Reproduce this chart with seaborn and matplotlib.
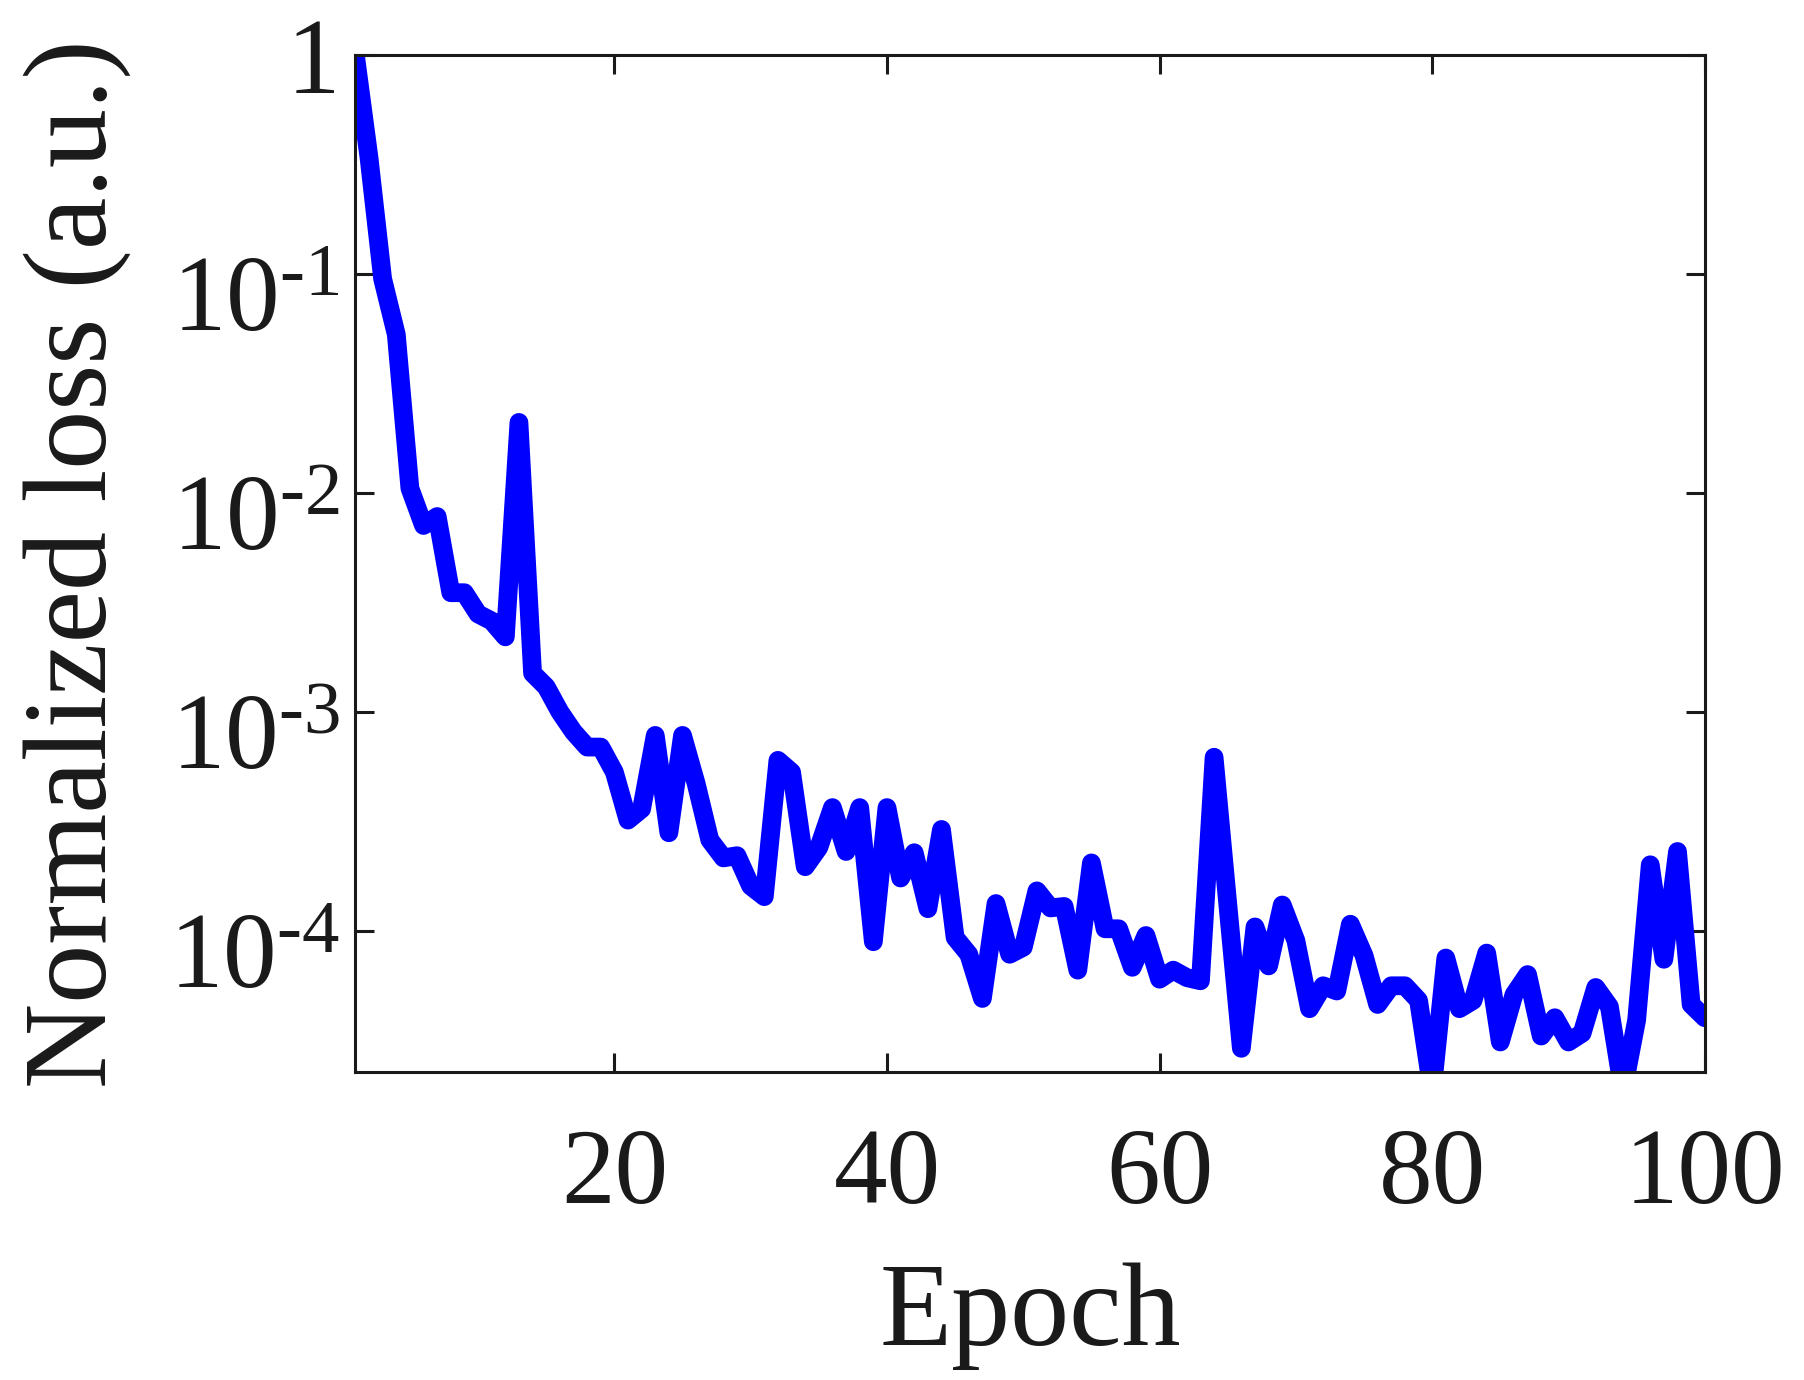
import numpy as np
import pandas as pd
import matplotlib
matplotlib.use("Agg")
import matplotlib.pyplot as plt
import matplotlib.transforms as mtransforms
import seaborn as sns

# values (log scale)
epochs = list(range(1, 101))
loss = [
    1.0, 0.34, 0.095, 0.053, 0.0105, 0.0071, 0.0078, 0.0035, 0.0035, 0.0028,
    0.0026, 0.0022, 0.021, 0.0015, 0.0013, 0.00100, 0.00081, 0.00069, 0.00069, 0.00053,
    0.00032, 0.00036, 0.00078, 0.00028, 0.00078, 0.00047, 0.00026, 0.000215, 0.00022, 0.00016,
    0.000143, 0.00060, 0.00053, 0.000196, 0.00024, 0.000365, 0.00023, 0.000365, 0.000089, 0.000365,
    0.000174, 0.000227, 0.000126, 0.00029, 0.000093, 0.000078, 0.000049, 0.000133, 0.000078, 0.000084,
    0.000152, 0.000127, 0.000129, 0.000066, 0.000204, 0.000102, 0.000102, 0.000068, 0.000095, 0.000060,
    0.000066, 0.000061, 0.000059, 0.00062, 0.000133, 0.000029, 0.000104, 0.000069, 0.000131, 0.000090,
    0.000044, 0.000056, 0.000053, 0.000107, 0.000077, 0.000046, 0.000056, 0.000056, 0.000048, 0.0000185,
    0.000075, 0.000044, 0.000048, 0.000079, 0.000031, 0.000051, 0.000063, 0.000033, 0.000040, 0.000031,
    0.000034, 0.000055, 0.000045, 0.0000185, 0.000039, 0.000200, 0.000074, 0.000230, 0.000046, 0.000040,
]
xtick_vals = [20, 40, 60, 80, 100]
ytick_vals = [1e-4, 1e-3, 1e-2, 1e-1, 1]
ytick_labels = [r"$10^{\text{-}4}$", r"$10^{\text{-}3}$", r"$10^{\text{-}2}$",
                r"$10^{\text{-}1}$", "1"]

df = pd.DataFrame({"Epoch": epochs, "Loss": loss})

sns.set_style("ticks")
plt.rcParams["font.family"] = ["Liberation Serif", "DejaVu Serif"]
plt.rcParams["mathtext.fontset"] = "custom"
plt.rcParams["mathtext.rm"] = "Liberation Serif"
plt.rcParams["mathtext.default"] = "regular"

ink = "#1a1a1a"

fig = plt.figure(figsize=(18.04, 13.8), dpi=100)
ax = fig.add_axes([0.197, 0.223, 0.748, 0.737])

sns.lineplot(data=df, x="Epoch", y="Loss", ax=ax, color="#0000ff",
             linewidth=13.5, solid_joinstyle="round", solid_capstyle="round")

ax.set_yscale("log")
ax.set_xlim(1, 100)
ax.set_ylim(10 ** -4.647, 1)
ax.set_xticks(xtick_vals)
ax.set_xticklabels([str(v) for v in xtick_vals])
ax.set_yticks(ytick_vals)
ax.set_yticklabels(ytick_labels)
ax.minorticks_off()

for s in ax.spines.values():
    s.set_linewidth(2.2)
    s.set_color(ink)
ax.tick_params(axis="both", which="major", direction="in", length=14, width=2.2,
               top=True, right=True, labelsize=77, color=ink, labelcolor=ink)
ax.tick_params(axis="x", pad=40)
ax.tick_params(axis="y", pad=11)

# power labels sit a little lower in the reference
shift = mtransforms.ScaledTranslation(0, -14 / 72, fig.dpi_scale_trans)
for lab in ax.get_yticklabels():
    if lab.get_text() != "1":
        lab.set_transform(lab.get_transform() + shift)

ax.set_xlabel("Epoch", fontsize=85, color=ink)
ax.set_ylabel("Normalized loss (a.u.)", fontsize=85, color=ink)
ax.xaxis.set_label_coords(0.5, -0.187)
ax.yaxis.set_label_coords(-0.166, 0.5)

fig.savefig("out.png", dpi=100)
